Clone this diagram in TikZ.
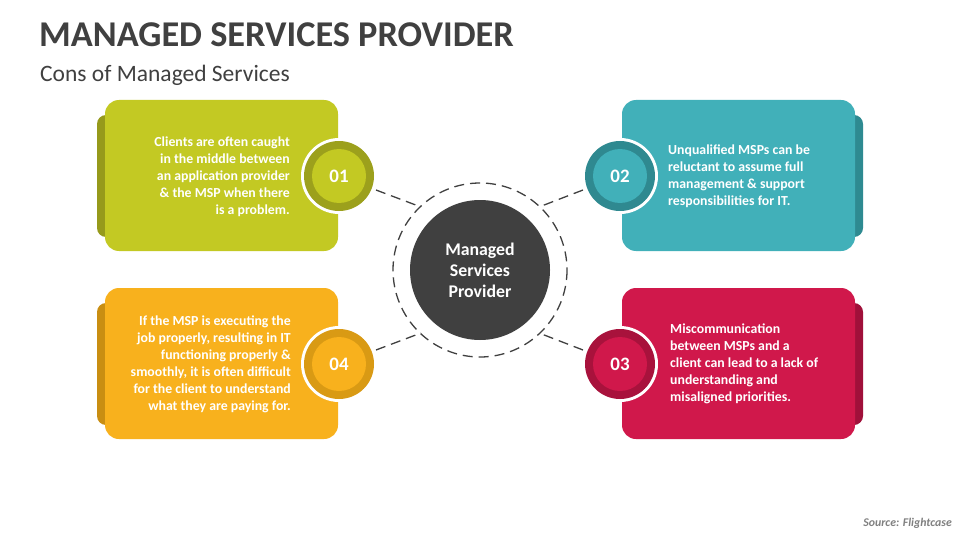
\documentclass[tikz,border=0pt]{standalone}
\usepackage{fontspec}
\setmainfont{Carlito}
\definecolor{gF}{HTML}{C3C923}\definecolor{gB}{HTML}{969A1B}\definecolor{gR}{HTML}{9CA01C}
\definecolor{tF}{HTML}{41B0B9}\definecolor{tB}{HTML}{2E8A91}\definecolor{tR}{HTML}{2F8990}
\definecolor{yF}{HTML}{F8B11D}\definecolor{yB}{HTML}{C98E12}\definecolor{yR}{HTML}{D99A14}
\definecolor{rF}{HTML}{D0184B}\definecolor{rB}{HTML}{A0103A}\definecolor{rR}{HTML}{A8123C}
\definecolor{dk}{HTML}{404040}
\tikzset{x=1pt,y=-1pt,
 btxt/.style={text=white,font=\fontsize{13.8}{17}\selectfont\bfseries,inner sep=0pt},
 dsh/.style={draw=dk,line width=1.3pt,dash pattern=on 10pt off 6pt},
 num/.style={text=white,font=\fontsize{19}{20}\selectfont\bfseries}}
\newcommand{\card}[7]{%
 \fill[#7,rounded corners=9pt] (#3,#5+15) rectangle (#4,#5+137);
 \fill[#6,rounded corners=14pt] (#1,#5) rectangle (#2,#5+151);}
\newcommand{\badge}[5]{%
 \fill[white] (#2,#3) circle (38);
 \fill[#4] (#2,#3) circle (35);
 \fill[#5] (#2,#3) circle (27);
 \node[num,circle,minimum size=54pt] (#1) at (#2,#3) {#1};}
\begin{document}
\begin{tikzpicture}
\useasboundingbox (0,0) rectangle (960,540);
\fill[white] (0,0) rectangle (960,540);
\node[anchor=base west,inner sep=0pt,text=dk,font=\fontsize{36.3}{37}\selectfont\bfseries] (title) at (39,47) {MANAGED SERVICES PROVIDER};
\node[anchor=base west,inner sep=0pt,text=dk,font=\fontsize{23.5}{24}\selectfont] (sub) at (40,82) {Cons of Managed Services};
\card{105}{338}{97}{140}{100}{gF}{gB}
\card{622}{855}{820}{863}{100}{tF}{tB}
\card{105}{338}{97}{140}{288}{yF}{yB}
\card{622}{855}{820}{863}{288}{rF}{rB}
\fill[white] (480,270) circle (78);
\node[circle,fill=dk,minimum size=140pt,text=white,align=center,font=\fontsize{17.8}{21}\selectfont\bfseries] (c) at (480,270) {Managed\\Services\\Provider};
\draw[dsh] (480,270) circle (87);
\badge{01}{339}{176}{gR}{gF}
\badge{02}{620}{176}{tR}{tF}
\badge{04}{339}{364}{yR}{yF}
\badge{03}{620}{364}{rR}{rF}
\draw[dsh] (376,190) -- (421,207);
\draw[dsh] (583,190) -- (539,207);
\draw[dsh] (376,350) -- (421,333);
\draw[dsh] (583,350) -- (539,333);
\node[btxt,align=right,anchor=north east] (t1) at (290,137) {Clients are often caught\\in the middle between\\an application provider\\\& the MSP when there\\is a problem.};
\node[btxt,align=left,anchor=north west] (t2) at (668,145) {Unqualified MSPs can be\\reluctant to assume full\\management \& support\\responsibilities for IT.};
\node[btxt,align=left,anchor=north west] (t3) at (670,324) {Miscommunication\\between MSPs and a\\client can lead to a lack of\\understanding and\\misaligned priorities.};
\node[btxt,align=right,anchor=north east] (t4) at (291,316) {If the MSP is executing the\\job properly, resulting in IT\\functioning properly \&\\smoothly, it is often difficult\\for the client to understand\\what they are paying for.};
\node[anchor=base east,inner sep=0pt,text=gray,font=\fontsize{11.8}{12}\selectfont\bfseries\itshape] (src) at (952,526) {Source: Flightcase};
\end{tikzpicture}
\end{document}
